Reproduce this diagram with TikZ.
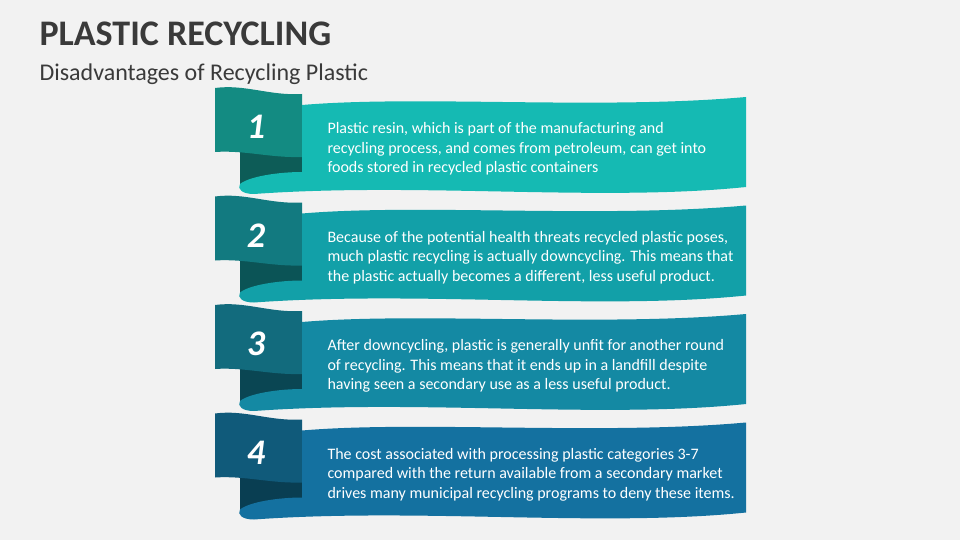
\documentclass[tikz,border=0pt]{standalone}
\usepackage{fontspec}
\setmainfont{Carlito}
\definecolor{bg}{HTML}{F2F2F2}
\definecolor{ttl}{HTML}{3A3A3A}
\definecolor{mA}{HTML}{15BAB3}\definecolor{tA}{HTML}{138B82}\definecolor{fA}{HTML}{0D5C57}
\definecolor{mB}{HTML}{12A0A8}\definecolor{tB}{HTML}{127A80}\definecolor{fB}{HTML}{0B5456}
\definecolor{mC}{HTML}{1489A3}\definecolor{tC}{HTML}{126B7D}\definecolor{fC}{HTML}{0A4653}
\definecolor{mD}{HTML}{1471A0}\definecolor{tD}{HTML}{105A7A}\definecolor{fD}{HTML}{093E52}
\tikzset{
 numtxt/.style={text=white,font=\fontsize{36}{36}\selectfont\bfseries\itshape\rmfamily},
 bodytxt/.style={text=white,anchor=west,align=left,font=\fontsize{16}{19.5}\selectfont},
}
\newcommand{\ribbonband}[6]{%
 \begin{scope}[yshift=-#1pt]
  \fill[#4] (240,-150) rectangle (302,-188);
  \fill[#3] (215,-88) .. controls (245,-84) and (270,-96) .. (302,-94) -- (302,-157)
     .. controls (270,-158) and (245,-150) .. (215,-152) -- cycle;
  \fill[#2] (302,-105) .. controls (420,-95) and (600,-110) .. (746,-97) -- (746,-187)
     .. controls (600,-202) and (420,-182) .. (254,-194)
     .. controls (242,-194) and (237,-189) .. (240,-184)
     .. controls (250,-176) and (280,-172) .. (302,-172) -- cycle;
  \node[numtxt] (n#5) at (256,-127) {#5};
  \node[bodytxt] (t#5) at (324,-149) {#6};
 \end{scope}}
\begin{document}
\begin{tikzpicture}[x=1pt,y=1pt]
\fill[bg] (0,0) rectangle (960,-540);
\useasboundingbox (0,0) rectangle (960,-540);
\node[anchor=west,text=ttl,font=\fontsize{36}{36}\selectfont\bfseries] (title) at (36,-34) {PLASTIC RECYCLING};
\node[anchor=west,text=ttl,font=\fontsize{24}{24}\selectfont] (sub) at (36,-74) {Disadvantages of Recycling Plastic};
\ribbonband{0}{mA}{tA}{fA}{1}{Plastic resin, which is part of the manufacturing and\\recycling process, and comes from petroleum, can get into\\foods stored in recycled plastic containers}
\ribbonband{108.5}{mB}{tB}{fB}{2}{Because of the potential health threats recycled plastic poses,\\much plastic recycling is actually downcycling. This means that\\the plastic actually becomes a different, less useful product.}
\ribbonband{217}{mC}{tC}{fC}{3}{After downcycling, plastic is generally unfit for another round\\of recycling. This means that it ends up in a landfill despite\\having seen a secondary use as a less useful product.}
\ribbonband{325.5}{mD}{tD}{fD}{4}{The cost associated with processing plastic categories 3-7\\compared with the return available from a secondary market\\drives many municipal recycling programs to deny these items.}
\end{tikzpicture}
\end{document}
